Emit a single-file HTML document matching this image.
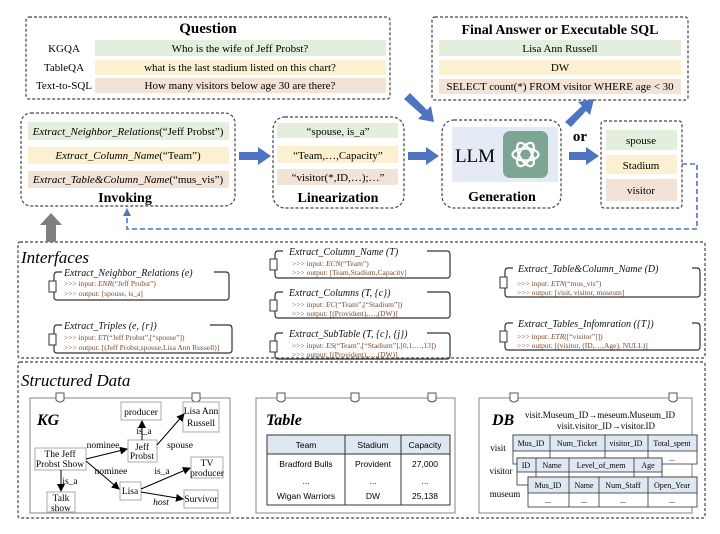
<!DOCTYPE html>
<html><head><meta charset="utf-8"><style>
html,body{margin:0;padding:0;background:#fff;}
svg{display:block;font-family:"Liberation Serif",serif;}
</style></head><body>
<svg width="720" height="534" viewBox="0 0 720 534" xmlns="http://www.w3.org/2000/svg">
<defs>
<marker id="ah" markerWidth="8" markerHeight="8" refX="7" refY="4" orient="auto" markerUnits="userSpaceOnUse"><path d="M0,0 L8,4 L0,8 z" fill="#000"/></marker>
<marker id="bh" markerWidth="8" markerHeight="8" refX="4" refY="4" orient="auto" markerUnits="userSpaceOnUse"><path d="M0,0 L8,4 L0,8 z" fill="#4f73c3"/></marker>
</defs>
<g fill="none" stroke="#444" stroke-width="1.2" stroke-dasharray="3,2">
<rect x="26" y="17" width="364" height="82" rx="3"/>
<rect x="432" y="17" width="256" height="83" rx="3"/>
<rect x="21" y="113" width="214" height="93" rx="10"/>
<rect x="273" y="117" width="131" height="91" rx="12"/>
<rect x="442" y="120" width="119" height="88" rx="12"/>
<rect x="601" y="121" width="81" height="87" rx="3"/>
<rect x="18" y="242" width="687" height="116" rx="2"/>
<rect x="18" y="362" width="687" height="156" rx="2"/>
</g>
<text x="208" y="33" font-size="15" font-weight="bold" text-anchor="middle">Question</text>
<rect x="95" y="40" width="291" height="16" fill="#e3efdc"/>
<rect x="95" y="60" width="291" height="15" fill="#fbf1d1"/>
<rect x="95" y="78" width="291" height="15" fill="#f3e2d6"/>
<g font-size="11" text-anchor="middle">
<text x="64" y="52">KGQA</text><text x="64" y="71">TableQA</text><text x="64" y="89">Text-to-SQL</text>
<text x="240" y="52">Who is the wife of Jeff Probst?</text>
<text x="240" y="71">what is the last stadium listed on this chart?</text>
<text x="240" y="89">How many visitors below age 30 are there?</text>
</g>
<text x="560" y="34" font-size="14" font-weight="bold" text-anchor="middle">Final Answer or Executable SQL</text>
<rect x="439" y="40" width="242" height="16" fill="#e3efdc"/>
<rect x="439" y="60" width="242" height="15" fill="#fbf1d1"/>
<rect x="439" y="79" width="242" height="15" fill="#f3e2d6"/>
<g font-size="11" text-anchor="middle">
<text x="560" y="52">Lisa Ann Russell</text><text x="560" y="71">DW</text>
<text x="560" y="90">SELECT count(*) FROM visitor WHERE age &lt; 30</text>
</g>
<rect x="28" y="122" width="201" height="18" fill="#e3efdc"/>
<rect x="28" y="147" width="201" height="17" fill="#fbf1d1"/>
<rect x="28" y="171" width="201" height="17" fill="#f3e2d6"/>
<g font-size="11" text-anchor="middle">
<text x="128" y="135"><tspan font-style="italic">Extract_Neighbor_Relations</tspan>(“Jeff Probst”)</text>
<text x="128" y="159"><tspan font-style="italic">Extract_Column_Name</tspan>(“Team”)</text>
<text x="128" y="183"><tspan font-style="italic">Extract_Table&amp;Column_Name</tspan>(“mus_vis”)</text>
</g>
<text x="125" y="202" font-size="14" font-weight="bold" text-anchor="middle">Invoking</text>
<rect x="277" y="123" width="121" height="15" fill="#e3efdc"/>
<rect x="277" y="146" width="121" height="17" fill="#fbf1d1"/>
<rect x="277" y="169" width="121" height="16" fill="#f3e2d6"/>
<g font-size="11" text-anchor="middle">
<text x="338" y="135">“spouse, is_a”</text>
<text x="338" y="159">“Team,…,Capacity”</text>
<text x="338" y="181">“visitor(*,ID,…);…”</text>
</g>
<text x="338" y="202" font-size="14" font-weight="bold" text-anchor="middle">Linearization</text>
<rect x="452" y="127" width="106" height="55" fill="#e4ebf5"/>
<text x="475" y="162" font-size="19" text-anchor="middle">LLM</text>
<rect x="503" y="131" width="45" height="47" rx="7" fill="#7da594"/>
<g fill="none" stroke="#fff" stroke-width="2.2">
<ellipse cx="525.5" cy="154.5" rx="13" ry="6"/>
<ellipse cx="525.5" cy="154.5" rx="13" ry="6" transform="rotate(60 525.5 154.5)"/>
<ellipse cx="525.5" cy="154.5" rx="13" ry="6" transform="rotate(120 525.5 154.5)"/>
</g>
<text x="502" y="201" font-size="14" font-weight="bold" text-anchor="middle">Generation</text>
<rect x="606" y="130" width="71" height="20" fill="#e3efdc"/>
<rect x="606" y="155" width="71" height="19" fill="#fbf1d1"/>
<rect x="606" y="179" width="71" height="22" fill="#f3e2d6"/>
<g font-size="11" text-anchor="middle">
<text x="641" y="144">spouse</text><text x="641" y="169">Stadium</text><text x="641" y="194">visitor</text>
</g>
<text x="580" y="141" font-size="15" font-weight="bold" text-anchor="middle">or</text>
<g fill="#4f73c3">
<polygon points="239,152 258,152 258,147 271,156 258,165 258,160 239,160"/>
<polygon points="408,152 426,152 426,147 439,156 426,165 426,160 408,160"/>
<polygon points="569,152 586,152 586,147 599,156 586,165 586,160 569,160"/>
<polygon points="404,99 410,93 427,110 431,106 434,122 418,119 422,115"/>
<polygon points="565,122 571,127 586,111 590,115 594,99 578,102 582,106"/>
</g>
<path d="M682,164 H697 V229 H127 V212" fill="none" stroke="#4f73c3" stroke-width="1.6" stroke-dasharray="5,3" marker-end="url(#bh)"/>
<polygon points="46,242 46,225 40,225 51,213 62,225 56,225 56,242" fill="#7f7f7f"/>
<text x="21" y="263" font-size="17" font-style="italic">Interfaces</text>
<g fill="none" stroke="#333" stroke-width="1.2">
<path d="M62,272 H57 Q54,272 54,276 V297 Q54,300 57,300 H226 Q229,300 229,297 V276 Q229,272 226,272 H214"/>
<path d="M62,325 H57 Q54,325 54,329 V350 Q54,353 57,353 H229 Q232,353 232,350 V329 Q232,325 229,325 H210"/>
<path d="M283,251 H278 Q275,251 275,255 V275 Q275,278 278,278 H447 Q450,278 450,275 V255 Q450,251 447,251 H427"/>
<path d="M283,292 H278 Q275,292 275,296 V315 Q275,318 278,318 H447 Q450,318 450,315 V296 Q450,292 447,292 H427"/>
<path d="M283,333 H278 Q275,333 275,337 V356 Q275,359 278,359 H447 Q450,359 450,356 V337 Q450,333 447,333 H427"/>
<path d="M513,268 H508 Q505,268 505,272 V294 Q505,297 508,297 H697 Q700,297 700,294 V272 Q700,268 697,268 H692"/>
<path d="M513,323 H508 Q505,323 505,327 V347 Q505,350 508,350 H697 Q700,350 700,347 V327 Q700,323 697,323 H692"/>
</g>
<g fill="#fff" stroke="#333" stroke-width="1">
<path d="M49,281 h7 v11 h-7 z"/><path d="M49,334 h7 v11 h-7 z"/>
<path d="M270,259 h7 v11 h-7 z"/><path d="M270,300 h7 v11 h-7 z"/><path d="M270,341 h7 v11 h-7 z"/>
<path d="M500,277 h7 v11 h-7 z"/><path d="M500,331 h7 v11 h-7 z"/>
</g>
<g font-size="10" font-style="italic" fill="#111">
<rect x="62" y="267" width="140" height="10" fill="#fff"/>
<text x="64" y="276">Extract_Neighbor_Relations (e)</text>
<rect x="62" y="320" width="110" height="10" fill="#fff"/>
<text x="64" y="329">Extract_Triples (e, {r})</text>
<rect x="283" y="246" width="124" height="10" fill="#fff"/>
<text x="289" y="255">Extract_Column_Name (T)</text>
<rect x="283" y="287" width="118" height="10" fill="#fff"/>
<text x="289" y="296">Extract_Columns (T, {c})</text>
<rect x="283" y="328" width="134" height="10" fill="#fff"/>
<text x="289" y="337">Extract_SubTable (T, {c}, {j})</text>
<rect x="513" y="263" width="160" height="10" fill="#fff"/>
<text x="518" y="272">Extract_Table&amp;Column_Name (D)</text>
<rect x="513" y="318" width="152" height="10" fill="#fff"/>
<text x="518" y="327">Extract_Tables_Infomration ({T})</text>
</g>
<g font-size="7.5" fill="#7a4a2a">
<text x="64" y="286">&gt;&gt;&gt; input: <tspan font-style="italic">ENR</tspan>(“Jeff Probst”)</text>
<text x="64" y="296">&gt;&gt;&gt; output: [spouse, is_a]</text>
<text x="64" y="340">&gt;&gt;&gt; input: <tspan font-style="italic">ET</tspan>(“Jeff Probst”,[“spouse”])</text>
<text x="64" y="350">&gt;&gt;&gt; output: [(Jeff Probst,spouse,Lisa Ann Russell)]</text>
<text x="292" y="266">&gt;&gt;&gt; input: <tspan font-style="italic">ECN</tspan>(“Team”)</text>
<text x="292" y="275">&gt;&gt;&gt; output: [Team,Stadium,Capacity]</text>
<text x="292" y="307">&gt;&gt;&gt; input: <tspan font-style="italic">EC</tspan>(“Team”,[“Stadium”])</text>
<text x="292" y="316">&gt;&gt;&gt; output: [(Provident),…,(DW)]</text>
<text x="292" y="348">&gt;&gt;&gt; input: <tspan font-style="italic">ES</tspan>(“Team”,[“Stadium”],[0,1,…,13])</text>
<text x="292" y="357">&gt;&gt;&gt; output: [(Provident),…,(DW)]</text>
<text x="517" y="286">&gt;&gt;&gt; input: <tspan font-style="italic">ETN</tspan>(“mus_vis”)</text>
<text x="517" y="295">&gt;&gt;&gt; output: [visit, visitor, museum]</text>
<text x="517" y="339">&gt;&gt;&gt; input: <tspan font-style="italic">ETR</tspan>([“visitor”]])</text>
<text x="517" y="348">&gt;&gt;&gt; output: [(visitor, (ID,…,Age), NULL)]</text>
</g>
<text x="21" y="386" font-size="17" font-style="italic">Structured Data</text>
<g fill="none" stroke="#999" stroke-width="1.2">
<rect x="30" y="398" width="200" height="115"/>
<rect x="256" y="398" width="199" height="115"/>
<rect x="479" y="398" width="213" height="115"/>
</g>
<g fill="#fff" stroke="#555" stroke-width="1">
<path d="M56,393 h8 v7 q-4,4 -8,0 z"/><path d="M192,393 h8 v7 q-4,4 -8,0 z"/>
<path d="M277,393 h8 v7 q-4,4 -8,0 z"/><path d="M351,393 h8 v7 q-4,4 -8,0 z"/><path d="M428,393 h8 v7 q-4,4 -8,0 z"/>
<path d="M510,393 h8 v7 q-4,4 -8,0 z"/><path d="M669,393 h8 v7 q-4,4 -8,0 z"/>
</g>
<text x="37" y="425" font-size="16" font-weight="bold" font-style="italic">KG</text>
<g fill="#fff" stroke="#aaa">
<rect x="121" y="402" width="40" height="18"/>
<rect x="183" y="402" width="36" height="30"/>
<rect x="128" y="440" width="29" height="22"/>
<rect x="35" y="448" width="51" height="22"/>
<rect x="191" y="457" width="32" height="21"/>
<rect x="120" y="482" width="21" height="18"/>
<rect x="184" y="490" width="34" height="18"/>
<rect x="47" y="492" width="28" height="20"/>
</g>
<g stroke="#000" stroke-width="1" marker-end="url(#ah)">
<line x1="142" y1="440" x2="142" y2="421"/>
<line x1="157" y1="445" x2="184" y2="414"/>
<line x1="86" y1="459" x2="127" y2="449"/>
<line x1="86" y1="461" x2="119" y2="489"/>
<line x1="141" y1="489" x2="190" y2="468"/>
<line x1="141" y1="492" x2="183" y2="499"/>
<line x1="61" y1="470" x2="61" y2="491"/>
</g>
<g font-size="9.5" text-anchor="middle">
<text x="141" y="415">producer</text>
<text x="201" y="414">Lisa Ann</text><text x="201" y="426">Russell</text>
<text x="142" y="450">Jeff</text><text x="142" y="459">Probst</text>
<text x="60" y="457">The Jeff</text><text x="60" y="467">Probst Show</text>
<text x="207" y="466">TV</text><text x="207" y="476">producer</text>
<text x="130" y="494">Lisa</text>
<text x="201" y="502">Survivor</text>
<text x="61" y="501">Talk</text><text x="61" y="511">show</text>
<text x="103" y="448">nominee</text>
<text x="180" y="448">spouse</text>
<text x="144" y="434">is_a</text>
<text x="111" y="474">nominee</text>
<text x="162" y="474">is_a</text>
<text x="161" y="505" font-style="italic">host</text>
<text x="70" y="484">is_a</text>
</g>
<text x="266" y="425" font-size="16" font-weight="bold" font-style="italic">Table</text>
<rect x="267" y="435" width="183" height="19" fill="#dfe7f3"/>
<rect x="267" y="435" width="183" height="70" fill="none" stroke="#333"/>
<line x1="267" y1="454" x2="450" y2="454" stroke="#333"/>
<line x1="345" y1="435" x2="345" y2="505" stroke="#333"/>
<line x1="401" y1="435" x2="401" y2="505" stroke="#333"/>
<g font-family="Liberation Sans,sans-serif" font-size="8.5" text-anchor="middle">
<text x="306" y="448">Team</text><text x="373" y="448">Stadium</text><text x="425" y="448">Capacity</text>
<text x="306" y="467">Bradford Bulls</text><text x="373" y="467">Provident</text><text x="425" y="467">27,000</text>
<text x="306" y="484">...</text><text x="373" y="484">...</text><text x="425" y="484">...</text>
<text x="306" y="499">Wigan Warriors</text><text x="373" y="499">DW</text><text x="425" y="499">25,138</text>
</g>
<text x="492" y="425" font-size="16" font-weight="bold" font-style="italic">DB</text>
<g font-size="9" text-anchor="middle">
<text x="600" y="418">visit.Museum_ID→meseum.Museum_ID</text>
<text x="606" y="429">visit.visitor_ID→visitor.ID</text>
<text x="498" y="451">visit</text><text x="501" y="474">visitor</text><text x="505" y="497">museum</text>
</g>
<g stroke="#333" stroke-width="0.8">
<rect x="513" y="435" width="184" height="29" fill="#fff"/>
<rect x="513" y="435" width="184" height="16" fill="#dfe7f3"/>
<line x1="550" y1="435" x2="550" y2="464"/><line x1="605" y1="435" x2="605" y2="464"/><line x1="648" y1="435" x2="648" y2="464"/>
<rect x="517" y="458" width="145" height="27" fill="#fff"/>
<rect x="517" y="458" width="145" height="14" fill="#dfe7f3"/>
<line x1="536" y1="458" x2="536" y2="485"/><line x1="569" y1="458" x2="569" y2="485"/><line x1="634" y1="458" x2="634" y2="485"/>
<rect x="528" y="477" width="169" height="30" fill="#fff"/>
<rect x="528" y="477" width="169" height="16" fill="#dfe7f3"/>
<line x1="569" y1="477" x2="569" y2="507"/><line x1="599" y1="477" x2="599" y2="507"/><line x1="648" y1="477" x2="648" y2="507"/>
</g>
<g font-size="8" text-anchor="middle">
<text x="531" y="446">Mus_ID</text><text x="577" y="446">Num_Ticket</text><text x="626" y="446">visitor_ID</text><text x="672" y="446">Total_spent</text>
<text x="672" y="461">...</text>
<text x="526" y="468">ID</text><text x="552" y="468">Name</text><text x="601" y="468">Level_of_mem</text><text x="648" y="468">Age</text>
<text x="548" y="488">Mus_ID</text><text x="584" y="488">Name</text><text x="623" y="488">Num_Staff</text><text x="672" y="488">Open_Year</text>
<text x="548" y="503">...</text><text x="584" y="503">...</text><text x="623" y="503">...</text><text x="672" y="503">...</text>
</g>
</svg>
</body></html>
